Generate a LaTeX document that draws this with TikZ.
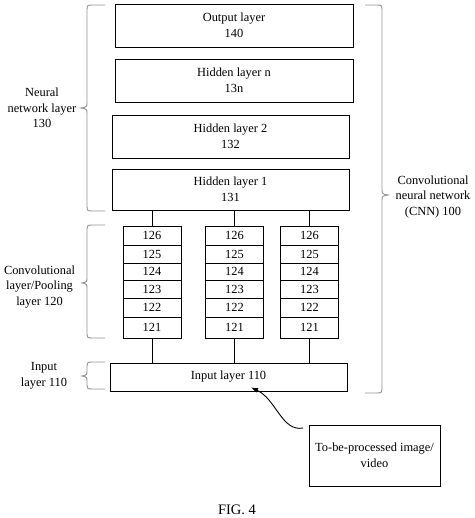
\documentclass[tikz,border=0pt]{standalone}
\usepackage{fontspec}
\setmainfont{Liberation Serif}
\usetikzlibrary{arrows.meta}
\tikzset{
  box/.style={draw=black, line width=0.9pt, fill=white, align=center, inner sep=0pt},
  cell/.style={draw=black, line width=0.9pt, minimum width=58pt, inner sep=0pt},
  conn/.style={draw=black, line width=0.9pt},
  bracestyle/.style={draw=black!42, line width=0.9pt},
  lbl/.style={align=center, inner sep=0pt}
}
\newcommand\gbrace[7]{%
  \draw[bracestyle] (#1,#4) -- ({#2+(#7)},#4) .. controls (#2,#4) .. (#2,#4+7)
    -- (#2,#5-6) .. controls (#2,#5-1) .. (#3,#5) .. controls (#2,#5+1) .. (#2,#5+6)
    -- (#2,#6-7) .. controls (#2,#6) .. ({#2+(#7)},#6) -- (#1,#6);}
\begin{document}
\begin{tikzpicture}[x=1pt,y=-1pt,font=\fontsize{12.4}{15.5}\selectfont]
\useasboundingbox (0,0) rectangle (474,518);
% layer boxes
\node[box, minimum width=238pt, minimum height=43pt] (out) at (234,25.5) {Output layer\\140};
\node[box, minimum width=238pt, minimum height=43pt] (hn) at (234,80.5) {Hidden layer n\\13n};
\node[box, minimum width=237pt, minimum height=43pt] (h2) at (230.5,136.5) {Hidden layer 2\\132};
\node[box, minimum width=237pt, minimum height=41pt] (h1) at (230.5,189.5) {Hidden layer 1\\131};
\node[box, minimum width=237pt, minimum height=28pt] (inp) at (228.5,377) {Input layer 110};
\node[box, minimum width=131pt, minimum height=61pt] (src) at (374.5,455.5) {To-be-processed image/\\video};
% stacks
\foreach \s/\cx in {1/152,2/234.5,3/309.5}{
  \foreach \n/\ya/\yb in {126/226/245,125/245/263,124/263/280,123/280/298,122/298/317,121/317/338}{
    \node[cell, minimum height={\yb-\ya}] (s\s-\n) at (\cx,{(\ya+\yb)/2}) {\n};
  }
  \draw[conn] (h1.south -| s\s-126.north) -- (s\s-126.north);
  \draw[conn] (s\s-121.south) -- (inp.north -| s\s-121.south);
}
% arrow from source
\coordinate (arrS) at (303,428);
\coordinate (arrE) at ([yshift=4pt]inp.south -| 251,0);
\draw[conn, -{Latex[length=7pt,width=5pt]}] (arrS) .. controls (282,432) and (276,399) .. (arrE);
% braces
\gbrace{105}{87}{81}{5}{108}{211}{6}
\gbrace{105}{87}{82}{225}{283}{338}{6}
\gbrace{105}{87}{82}{362}{376}{389}{6}
\gbrace{365}{382}{388}{5}{195}{393}{-6}
% labels
\node[lbl] (lnn) at (42,108) {Neural\\network layer\\130};
\node[lbl] (lconv) at (39.5,287) {Convolutional\\layer/Pooling\\layer 120};
\node[lbl] (lin) at (44,376) {Input\\layer 110};
\node[lbl] (lcnn) at (433,197) {Convolutional\\neural network\\(CNN) 100};
\node[lbl, font=\fontsize{14.5}{17}\selectfont] (fig) at (237,510) {FIG. 4};
\end{tikzpicture}
\end{document}
